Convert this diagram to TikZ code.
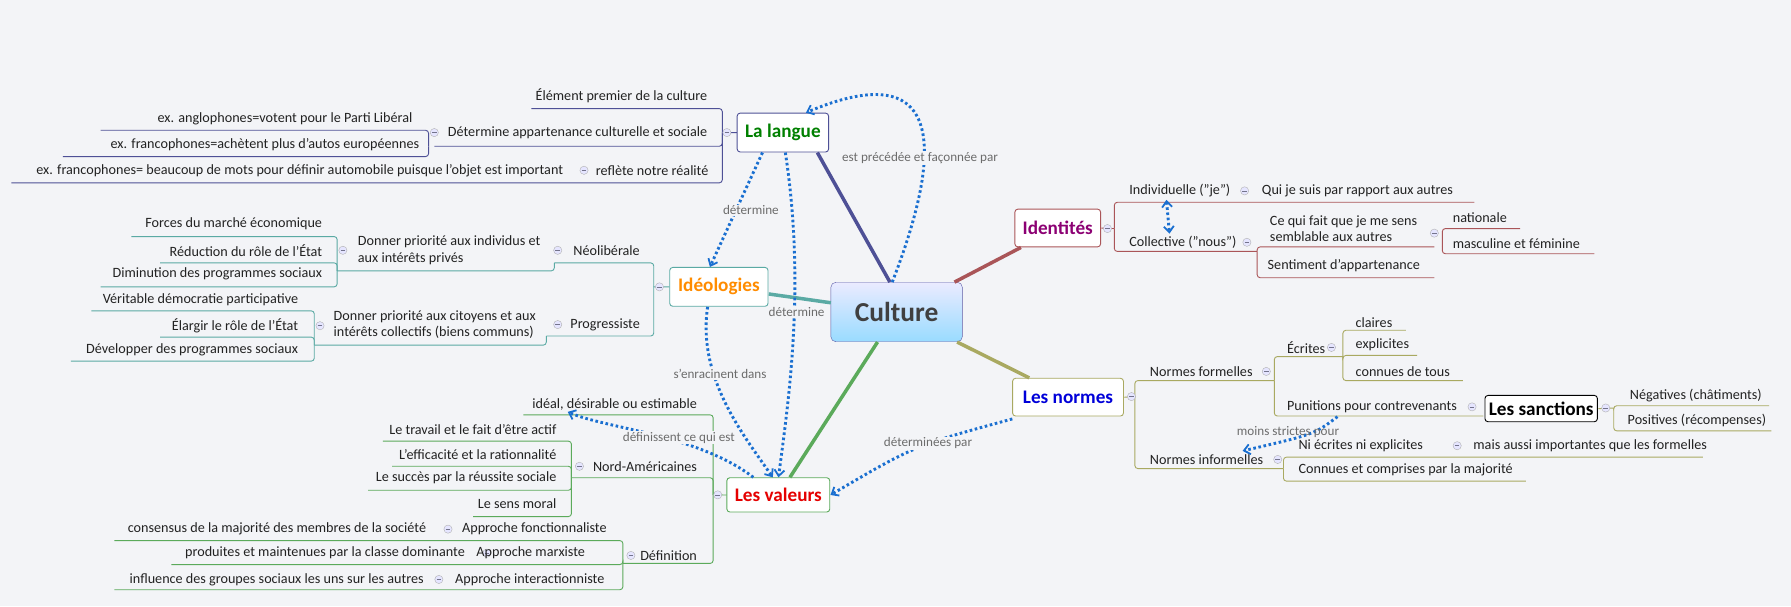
\documentclass[tikz,border=0pt]{standalone}
\usepackage{fontspec}
\setmainfont{Carlito}
\usetikzlibrary{arrows.meta}
\definecolor{bg}{HTML}{F3F4F7}
\definecolor{cla}{HTML}{4E5096}
\definecolor{cid}{HTML}{5AAAA4}
\definecolor{cva}{HTML}{5BAA5B}
\definecolor{cit}{HTML}{AA5558}
\definecolor{cno}{HTML}{A9A961}
\definecolor{rel}{HTML}{1A6FD0}
\definecolor{txt}{HTML}{222222}
\newcommand\BR[5]{\draw[#1,rounded corners=3] (#2,#3) -- (#2,#4) -- (#5,#4);}
\newcommand\CC[2]{\draw[draw=gray!60,fill=white!90!blue] (#1,#2) circle (3.6); \draw[gray!90!blue,line width=0.7] (#1-2,#2) -- (#1+2,#2);}
\tikzset{
 leaf/.style={font=\fontsize{12.4}{14.3}\selectfont,text=txt,inner sep=1pt,align=left},
 le/.style={leaf,anchor=east},
 lw/.style={leaf,anchor=west},
 topic/.style={draw=#1,fill=white,rounded corners=3,font=\fontsize{16.8}{19}\selectfont\bfseries,line width=0.9},
 rela/.style={draw=rel,line width=2.9,dash pattern=on 2.6 off 2.6,-{Straight Barb[length=6,width=10,line width=1.8]}},
 rlab/.style={font=\fontsize{11.5}{13}\selectfont,text=gray!85!black,fill=bg,inner sep=1pt},
 br/.style={line width=0.9}
}
\begin{document}
\begin{tikzpicture}[x=1pt,y=-1pt,scale=1.142857,every node/.append style={transform shape}]
\fill[bg] (0,0) rectangle (1567.1,530.25);
\useasboundingbox (0,0) rectangle (1567.1,530.25);
% main topics
\node[draw=gray!70!blue,rounded corners=5,top color=blue!8,bottom color=blue!35!cyan!40,minimum width=115,minimum height=52,font=\fontsize{24}{27}\selectfont\bfseries,text=black!75] (culture) at (784.5,273) {Culture};
\node[topic=cla,minimum width=80,minimum height=34,text=green!50!black] (langue) at (685,116) {La langue};
\node[topic=cid,minimum width=86,minimum height=34,text=orange!90!yellow] (ideo) at (629,251) {Idéologies};
\node[topic=cva,minimum width=90,minimum height=30,text=red!90!black] (valeurs) at (681,433) {Les valeurs};
\node[topic=cit,minimum width=75,minimum height=33,text=violet!80!purple] (ident) at (925.5,199.5) {Identités};
\node[topic=cno,minimum width=97,minimum height=33,text=blue!85!black] (normes) at (934.5,347.5) {Les normes};
\node[topic=black,minimum width=97,minimum height=23,text=black] (sanct) at (1348.5,357.5) {Les sanctions};
\draw[cla,line width=3.5] ([xshift=-6]culture.north) -- ([xshift=30]langue.south);
\draw[cid,line width=3.5] (culture) -- (ideo);
\draw[cva,line width=3.5] (culture) -- (valeurs);
\draw[cit,line width=3.5] (culture) -- (ident);
\draw[cno,line width=3.5] (culture) -- (normes);
% La langue
\draw[cla,br] (langue.west) -- (632,116);
\begin{scope}[br]
\BR{cla}{632}{116}{95}{465}
\BR{cla}{632}{116}{128}{380}
\BR{cla}{632}{116}{160}{10}
\BR{cla}{375}{128}{114}{88}
\BR{cla}{375}{128}{137}{55}
\end{scope}
\CC{636}{116}\CC{380}{116}\CC{511}{149}
\node[le] (l1) at (620,84) {Élément premier de la culture};
\node[le] (l2) at (620,116) {Détermine appartenance culturelle et sociale};
\node[le] (l21) at (362,104) {ex. anglophones=votent pour le Parti Libéral};
\node[le] (l22) at (368,127) {ex. francophones=achètent plus d'autos européennes};
\node[le] (l3) at (621,149) {reflète notre réalité};
\node[le] (l31) at (494,149) {ex. francophones= beaucoup de mots pour définir automobile puisque l'objet est important};
% Ideologies
\draw[cid,br] (ideo.west) -- (572,251);
\begin{scope}[br]
\BR{cid}{572}{251}{230}{485}
\BR{cid}{572}{251}{294}{478}
\BR{cid}{485}{230}{237}{295}
\BR{cid}{295}{237}{207}{115}
\BR{cid}{295}{237}{230}{140}
\BR{cid}{295}{237}{251}{88}
\BR{cid}{478}{294}{302}{275}
\BR{cid}{275}{302}{272}{80}
\BR{cid}{275}{302}{295}{140}
\BR{cid}{275}{302}{316}{62}
\end{scope}
\CC{577}{251}\CC{488}{219}\CC{488}{284}\CC{300}{219}\CC{280}{285}
\node[le] (neo) at (561,219) {Néolibérale};
\node[le] (d1) at (474,219) {Donner priorité aux individus et\\aux intérêts privés};
\node[le] (f1) at (283,196) {Forces du marché économique};
\node[le] (f2) at (283,219) {Réduction du rôle de l'État};
\node[le] (f3) at (283,240) {Diminution des programmes sociaux};
\node[le] (pro) at (561,284) {Progressiste};
\node[le] (d2) at (470,284) {Donner priorité aux citoyens et aux\\intérêts collectifs (biens communs)};
\node[le] (g1) at (262,262) {Véritable démocratie participative};
\node[le] (g2) at (262,285) {Élargir le rôle de l'État};
\node[le] (g3) at (262,306) {Développer des programmes sociaux};
% Valeurs
\draw[cva,br] (valeurs.west) -- (624,433);
\begin{scope}[br]
\BR{cva}{624}{433}{363}{458}
\BR{cva}{624}{433}{418}{500}
\BR{cva}{624}{433}{493}{545}
\BR{cva}{500}{418}{386}{335}
\BR{cva}{500}{418}{408}{343}
\BR{cva}{500}{418}{429}{322}
\BR{cva}{500}{418}{452}{414}
\BR{cva}{545}{493}{473}{100}
\BR{cva}{545}{493}{494}{150}
\BR{cva}{545}{493}{516}{100}
\end{scope}
\CC{628}{433}\CC{507}{408}\CC{552}{486}\CC{392}{463}\CC{426}{484}\CC{384}{507}
\node[le] (ideal) at (611,354) {idéal, désirable ou estimable};
\node[le] (nord) at (611,408) {Nord-Américaines};
\node[le] (n1) at (488,376) {Le travail et le fait d'être actif};
\node[le] (n2) at (488,398) {L'efficacité et la rationnalité};
\node[le] (n3) at (488,418) {Le succès par la réussite sociale};
\node[le] (n4) at (488,441) {Le sens moral};
\node[le] (def) at (611,486) {Définition};
\node[le] (a1) at (532,463) {Approche fonctionnaliste};
\node[le] (a11) at (374,463) {consensus de la majorité des membres de la société};
\node[le] (a2) at (513,484) {Approche marxiste};
\node[le] (a21) at (408,484) {produites et maintenues par la classe dominante};
\node[le] (a3) at (530,507) {Approche interactionniste};
\node[le] (a31) at (372,507) {influence des groupes sociaux les uns sur les autres};
% Identites
\draw[cit,br] (ident.east) -- (975,200);
\begin{scope}[br]
\BR{cit}{975}{200}{177}{1290}
\BR{cit}{975}{200}{220}{1100}
\BR{cit}{1100}{220}{216}{1255}
\BR{cit}{1100}{220}{243}{1255}
\BR{cit}{1262}{216}{200}{1330}
\BR{cit}{1262}{216}{222}{1395}
\end{scope}
\CC{969}{200}\CC{1089}{167}\CC{1091}{212}\CC{1255}{204}
\node[lw] (indiv) at (987,167) {Individuelle ("je")};
\node[lw] (qui) at (1103,167) {Qui je suis par rapport aux autres};
\node[lw] (colle) at (987,212) {Collective ("nous")};
\node[lw] (cequi) at (1110,200) {Ce qui fait que je me sens\\semblable aux autres};
\node[lw] (nat) at (1270,190) {nationale};
\node[lw] (masc) at (1270,213) {masculine et féminine};
\node[lw] (senti) at (1108,232) {Sentiment d'appartenance};
% Normes
\draw[cno,br] (normes.east) -- (993,347);
\begin{scope}[br]
\BR{cno}{993}{347}{333}{1115}
\BR{cno}{993}{347}{410}{1123}
\BR{cno}{1115}{333}{312}{1175}
\BR{cno}{1115}{333}{364}{1298}
\BR{cno}{1175}{312}{289}{1230}
\BR{cno}{1175}{312}{311}{1240}
\BR{cno}{1175}{312}{333}{1280}
\BR{cno}{1123}{410}{400}{1490}
\BR{cno}{1123}{410}{421}{1335}
\BR{cno}{1412}{357}{355}{1548}
\BR{cno}{1412}{357}{377}{1550}
\end{scope}
\draw[cno,br] (sanct.east) -- (1412,357);
\CC{990}{347}\CC{1108}{325}\CC{1165}{304}\CC{1288}{356}\CC{1405}{357}\CC{1118}{402}\CC{1275}{390}
\node[lw] (nf) at (1005,325) {Normes formelles};
\node[lw] (ecr) at (1125,304) {Écrites};
\node[lw] (e1) at (1185,282) {claires};
\node[lw] (e2) at (1185,302) {explicites};
\node[lw] (e3) at (1185,325) {connues de tous};
\node[lw] (punit) at (1125,356) {Punitions pour contrevenants};
\node[lw] (neg) at (1425,346) {Négatives (châtiments)};
\node[lw] (pos) at (1423,368) {Positives (récompenses)};
\node[lw] (ni) at (1005,402) {Normes informelles};
\node[lw] (nie) at (1135,390) {Ni écrites ni explicites};
\node[lw] (mais) at (1288,390) {mais aussi importantes que les formelles};
\node[lw] (conn) at (1135,411) {Connues et comprises par la majorité};
% relationships
\draw[rela] ([xshift=-4]culture.north) .. controls (830,120) and (820,50) .. ([xshift=20]langue.north);
\node[rlab] (r1) at (805,138) {est précédée et façonnée par};
\draw[rela] ([xshift=-18]langue.south) -- ([xshift=-8]ideo.north);
\node[rlab] (r2) at (657,184) {détermine};
\draw[rela] ([xshift=2]langue.south) .. controls (705,250) and (690,350) .. ([xshift=0]valeurs.north);
\node[rlab] (r3) at (697,273) {détermine};
\draw[rela] ([xshift=-10]ideo.south) .. controls (610,330) and (650,380) .. ([xshift=-5]valeurs.north);
\node[rlab] (r4) at (630,327) {s'enracinent dans};
\draw[rela] ([xshift=-22]valeurs.north) .. controls (610,380) and (530,375) .. ([xshift=32]ideal.south west);
\node[rlab] (r5) at (594,383) {définissent ce qui est};
\draw[rela] ([yshift=-2]normes.south west) .. controls (800,390) .. (valeurs.east);
\node[rlab] (r6) at (812,388) {déterminées par};
\draw[rela] ([xshift=45,yshift=-2]punit.south west) .. controls (1150,380) .. ([xshift=82,yshift=2]ni.north west);
\node[rlab,fill=none] (r7) at (1127,378) {moins strictes pour};
\draw[rela,{Straight Barb[length=6,width=10,line width=1.8]}-{Straight Barb[length=6,width=10,line width=1.8]}] ([xshift=-12,yshift=-1]indiv.south) -- ([xshift=-12,yshift=1]colle.north);
\end{tikzpicture}
\end{document}
